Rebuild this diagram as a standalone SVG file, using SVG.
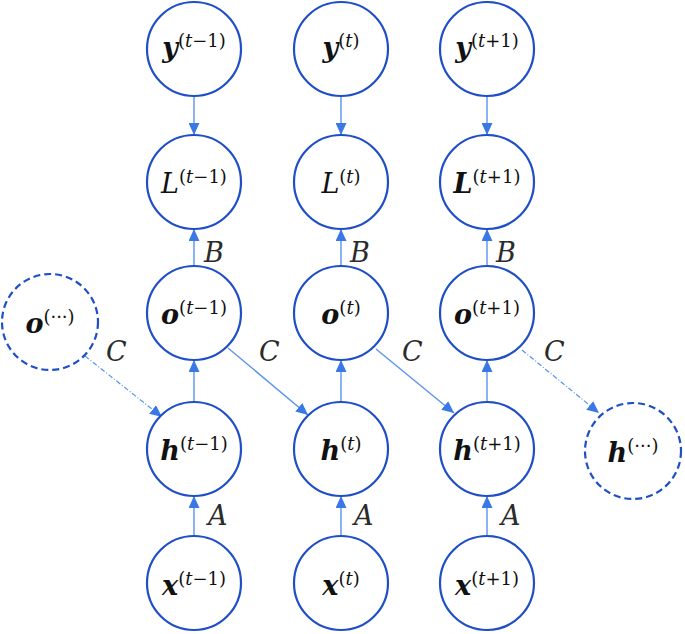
<svg xmlns="http://www.w3.org/2000/svg" width="685" height="634" viewBox="0 0 685 634">
<defs>
<marker id="ah" markerWidth="12" markerHeight="11" refX="12" refY="5.5" orient="auto" markerUnits="userSpaceOnUse">
<path d="M0,0 L12,5.5 L0,11 Z" fill="#3a78e6"/>
</marker>
<style>
.n{fill:#fff;stroke:#1f4fc6;stroke-width:2.2}
.d{fill:#fff;stroke:#1f4fc6;stroke-width:2.2;stroke-dasharray:7 4}
.e{stroke:#5a93ee;stroke-width:1.4;fill:none;marker-end:url(#ah)}
.dd{stroke-dasharray:5 2 1 2;stroke-width:1.2}
.t{font-family:'DejaVu Serif',serif;font-size:27px;fill:#111;text-anchor:middle}
.v{font-weight:bold;font-style:italic}
.i{font-style:italic}
.s{font-size:18px;font-weight:normal;font-style:normal}
.lb{font-family:'DejaVu Serif',serif;font-size:27px;font-style:italic;fill:#2b2b2b}
</style>
</defs>
<g id="connectors">
<line class="e" x1="194" y1="97" x2="194" y2="135"/>
<line class="e" x1="341" y1="97" x2="341" y2="135"/>
<line class="e" x1="487" y1="97" x2="487" y2="135"/>
<line class="e" x1="194" y1="266" x2="194" y2="229"/>
<line class="e" x1="341" y1="266" x2="341" y2="229"/>
<line class="e" x1="487" y1="266" x2="487" y2="229"/>
<line class="e" x1="194" y1="402" x2="194" y2="360"/>
<line class="e" x1="341" y1="402" x2="341" y2="360"/>
<line class="e" x1="487" y1="402" x2="487" y2="360"/>
<line class="e" x1="194" y1="536" x2="194" y2="496"/>
<line class="e" x1="341" y1="536" x2="341" y2="496"/>
<line class="e" x1="487" y1="536" x2="487" y2="496"/>
<line class="e dd" x1="85" y1="356" x2="162" y2="417"/>
<line class="e" x1="228" y1="348" x2="308" y2="415"/>
<line class="e" x1="376" y1="349" x2="454" y2="413"/>
<line class="e dd" x1="522" y1="350" x2="599" y2="413"/>
<text class="lb" x="106" y="361">C</text>
<text class="lb" x="259" y="361">C</text>
<text class="lb" x="402" y="361">C</text>
<text class="lb" x="544" y="361">C</text>
<text class="lb" x="204" y="262">B</text>
<text class="lb" x="350" y="262">B</text>
<text class="lb" x="496" y="262">B</text>
<text class="lb" x="208" y="525">A</text>
<text class="lb" x="354" y="525">A</text>
<text class="lb" x="501" y="525">A</text>
</g>
<g id="y1"><circle class="n" cx="194" cy="49" r="47"/><text class="t" x="194" y="57"><tspan class="v">y</tspan><tspan class="s" dy="-10">(<tspan class="i">t</tspan>−1)</tspan></text></g>
<g id="y2"><circle class="n" cx="341" cy="49" r="47"/><text class="t" x="341" y="57"><tspan class="v">y</tspan><tspan class="s" dy="-10">(<tspan class="i">t</tspan>)</tspan></text></g>
<g id="y3"><circle class="n" cx="487" cy="49" r="47"/><text class="t" x="487" y="57"><tspan class="v">y</tspan><tspan class="s" dy="-10">(<tspan class="i">t</tspan>+1)</tspan></text></g>
<g id="L1"><circle class="n" cx="194" cy="182" r="47"/><text class="t" x="194" y="193"><tspan class="i">L</tspan><tspan class="s" dy="-10">(<tspan class="i">t</tspan>−1)</tspan></text></g>
<g id="L2"><circle class="n" cx="341" cy="182" r="47"/><text class="t" x="341" y="193"><tspan class="i">L</tspan><tspan class="s" dy="-10">(<tspan class="i">t</tspan>)</tspan></text></g>
<g id="L3"><circle class="n" cx="487" cy="182" r="47"/><text class="t" x="487" y="193"><tspan class="v">L</tspan><tspan class="s" dy="-10">(<tspan class="i">t</tspan>+1)</tspan></text></g>
<g id="o0"><circle class="d" cx="50" cy="322" r="48"/><text class="t" x="50" y="333"><tspan class="v">o</tspan><tspan class="s" dy="-10">(···)</tspan></text></g>
<g id="o1"><circle class="n" cx="194" cy="313" r="47"/><text class="t" x="194" y="324"><tspan class="v">o</tspan><tspan class="s" dy="-10">(<tspan class="i">t</tspan>−1)</tspan></text></g>
<g id="o2"><circle class="n" cx="341" cy="313" r="47"/><text class="t" x="341" y="324"><tspan class="v">o</tspan><tspan class="s" dy="-10">(<tspan class="i">t</tspan>)</tspan></text></g>
<g id="o3"><circle class="n" cx="487" cy="313" r="47"/><text class="t" x="487" y="324"><tspan class="v">o</tspan><tspan class="s" dy="-10">(<tspan class="i">t</tspan>+1)</tspan></text></g>
<g id="h1"><circle class="n" cx="194" cy="449" r="47"/><text class="t" x="194" y="460"><tspan class="v">h</tspan><tspan class="s" dy="-10">(<tspan class="i">t</tspan>−1)</tspan></text></g>
<g id="h2"><circle class="n" cx="341" cy="449" r="47"/><text class="t" x="341" y="460"><tspan class="v">h</tspan><tspan class="s" dy="-10">(<tspan class="i">t</tspan>)</tspan></text></g>
<g id="h3"><circle class="n" cx="487" cy="449" r="47"/><text class="t" x="487" y="460"><tspan class="v">h</tspan><tspan class="s" dy="-10">(<tspan class="i">t</tspan>+1)</tspan></text></g>
<g id="h4"><circle class="d" cx="633" cy="451" r="48"/><text class="t" x="633" y="462"><tspan class="v">h</tspan><tspan class="s" dy="-10">(···)</tspan></text></g>
<g id="x1"><circle class="n" cx="194" cy="583" r="47"/><text class="t" x="194" y="595"><tspan class="v">x</tspan><tspan class="s" dy="-10">(<tspan class="i">t</tspan>−1)</tspan></text></g>
<g id="x2"><circle class="n" cx="341" cy="583" r="47"/><text class="t" x="341" y="595"><tspan class="v">x</tspan><tspan class="s" dy="-10">(<tspan class="i">t</tspan>)</tspan></text></g>
<g id="x3"><circle class="n" cx="487" cy="583" r="47"/><text class="t" x="487" y="595"><tspan class="v">x</tspan><tspan class="s" dy="-10">(<tspan class="i">t</tspan>+1)</tspan></text></g>
</svg>
